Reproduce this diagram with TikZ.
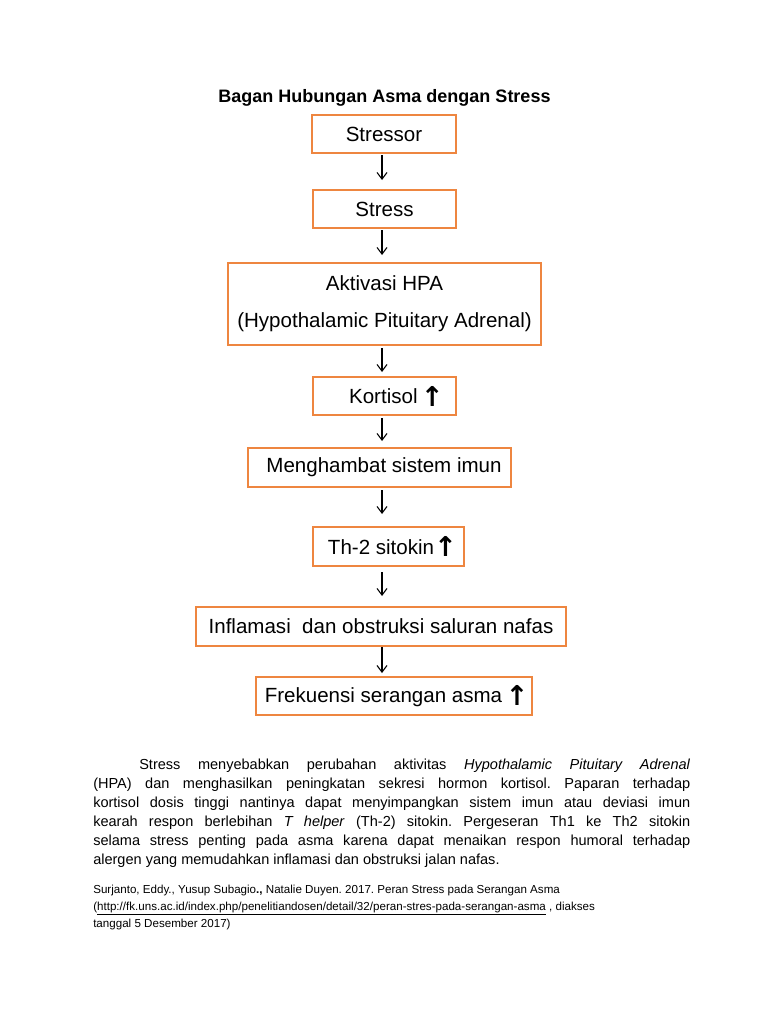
\documentclass[tikz,border=0pt]{standalone}
\usepackage{fontspec}
\setmainfont{Liberation Sans}
\newfontfamily\arrowfont{DejaVu Sans}
\usetikzlibrary{arrows.meta}
\definecolor{boxorange}{HTML}{EE8640}
\newcommand{\myup}{\raisebox{-1.8pt}{\arrowfont\bfseries\fontsize{20.5}{20}\selectfont ↑}}
\frenchspacing
\begin{document}
\begin{tikzpicture}[x=0.75pt,y=-0.75pt,
  flowbox/.style={draw=boxorange, line width=1.6pt, inner sep=0pt, outer sep=0pt,
    font=\fontsize{15.4}{18}\selectfont, align=center, text=black},
  conn/.style={draw=black, line width=0.8pt, -{Straight Barb[length=5pt,width=7.5pt]}},
  para/.style={anchor=base west, inner sep=0pt, font=\fontsize{10.9}{13}\selectfont},
  refline/.style={anchor=base west, inner sep=0pt, font=\fontsize{8.7}{10.5}\selectfont}]
\fill[white] (0,0) rectangle (768,1024);
\useasboundingbox (0,0) rectangle (768,1024);

\node[anchor=base, inner sep=0pt, font=\bfseries\fontsize{13.5}{16}\selectfont] (title) at (384.5,103) {Bagan Hubungan Asma dengan Stress};

\node[flowbox, minimum width=144*0.75pt, minimum height=38*0.75pt] (b1) at (384,134) {Stressor};
\node[flowbox, minimum width=143*0.75pt, minimum height=38*0.75pt] (b2) at (384.5,209) {Stress};
\node[flowbox, minimum width=313*0.75pt, minimum height=82*0.75pt, font=\fontsize{15.4}{27.75}\selectfont] (b3) at (384.5,304) {Aktivasi HPA\\(Hypothalamic Pituitary Adrenal)};
\node[flowbox, minimum width=143*0.75pt, minimum height=38*0.75pt] (b4) at (384.5,396) {\hspace*{18pt}Kortisol\,\myup};
\node[flowbox, minimum width=263*0.75pt, minimum height=39*0.75pt] (b5) at (379.5,467.5) {\hspace*{6.75pt}Menghambat sistem imun};
\node[flowbox, minimum width=151*0.75pt, minimum height=39*0.75pt] (b6) at (388.5,546.5) {\hspace*{6pt}Th-2 sitokin\myup};
\node[flowbox, minimum width=370*0.75pt, minimum height=39*0.75pt] (b7) at (381,626.5) {Inflamasi~ dan obstruksi saluran nafas};
\node[flowbox, minimum width=276*0.75pt, minimum height=38*0.75pt] (b8) at (394,696) {\hspace*{4pt}Frekuensi serangan asma\,\myup};

\coordinate (col) at (382,0);
\draw[conn, shorten <=1.5pt, shorten >=7.5pt] (b1.south -| col) -- (b2.north -| col);
\draw[conn, shorten <=1.5pt, shorten >=6pt] (b2.south -| col) -- (b3.north -| col);
\draw[conn, shorten <=2.25pt, shorten >=3.75pt] (b3.south -| col) -- (b4.north -| col);
\draw[conn, shorten <=2.25pt, shorten >=5.25pt] (b4.south -| col) -- (b5.north -| col);
\draw[conn, shorten <=2.25pt, shorten >=9.75pt] (b5.south -| col) -- (b6.north -| col);
\draw[conn, shorten <=4.5pt, shorten >=8.25pt] (b6.south -| col) -- (b7.north -| col);
\draw[conn, shorten <=0.75pt, shorten >=3pt] (b7.south -| col) -- (b8.north -| col);

\node[para] (p1) at (139,769) {\makebox[413.25pt][s]{Stress menyebabkan perubahan aktivitas \textit{Hypothalamic Pituitary Adrenal}}};
\node[para] (p2) at (93,788) {\makebox[447.75pt][s]{(HPA) dan menghasilkan peningkatan sekresi hormon kortisol. Paparan terhadap}};
\node[para] (p3) at (93,807) {\makebox[447.75pt][s]{kortisol dosis tinggi nantinya dapat menyimpangkan sistem imun atau deviasi imun}};
\node[para] (p4) at (93,826) {\makebox[447.75pt][s]{kearah respon berlebihan \textit{T helper} (Th-2) sitokin. Pergeseran Th1 ke Th2 sitokin}};
\node[para] (p5) at (93,845.5) {\makebox[447.75pt][s]{selama stress penting pada asma karena dapat menaikan respon humoral terhadap}};
\node[para] (p6) at (93,864.5) {alergen yang memudahkan inflamasi dan obstruksi jalan nafas.};

\node[refline] (r1) at (93,893) {Surjanto, Eddy., Yusup Subagio\textbf{.,} Natalie Duyen. 2017. Peran Stress pada Serangan Asma};
\node[refline] (r2) at (93,910) {(\underline{http://fk.uns.ac.id/index.php/penelitiandosen/detail/32/peran-stres-pada-serangan-asma} , diakses};
\node[refline] (r3) at (93,927) {tanggal 5 Desember 2017)};
\end{tikzpicture}
\end{document}
